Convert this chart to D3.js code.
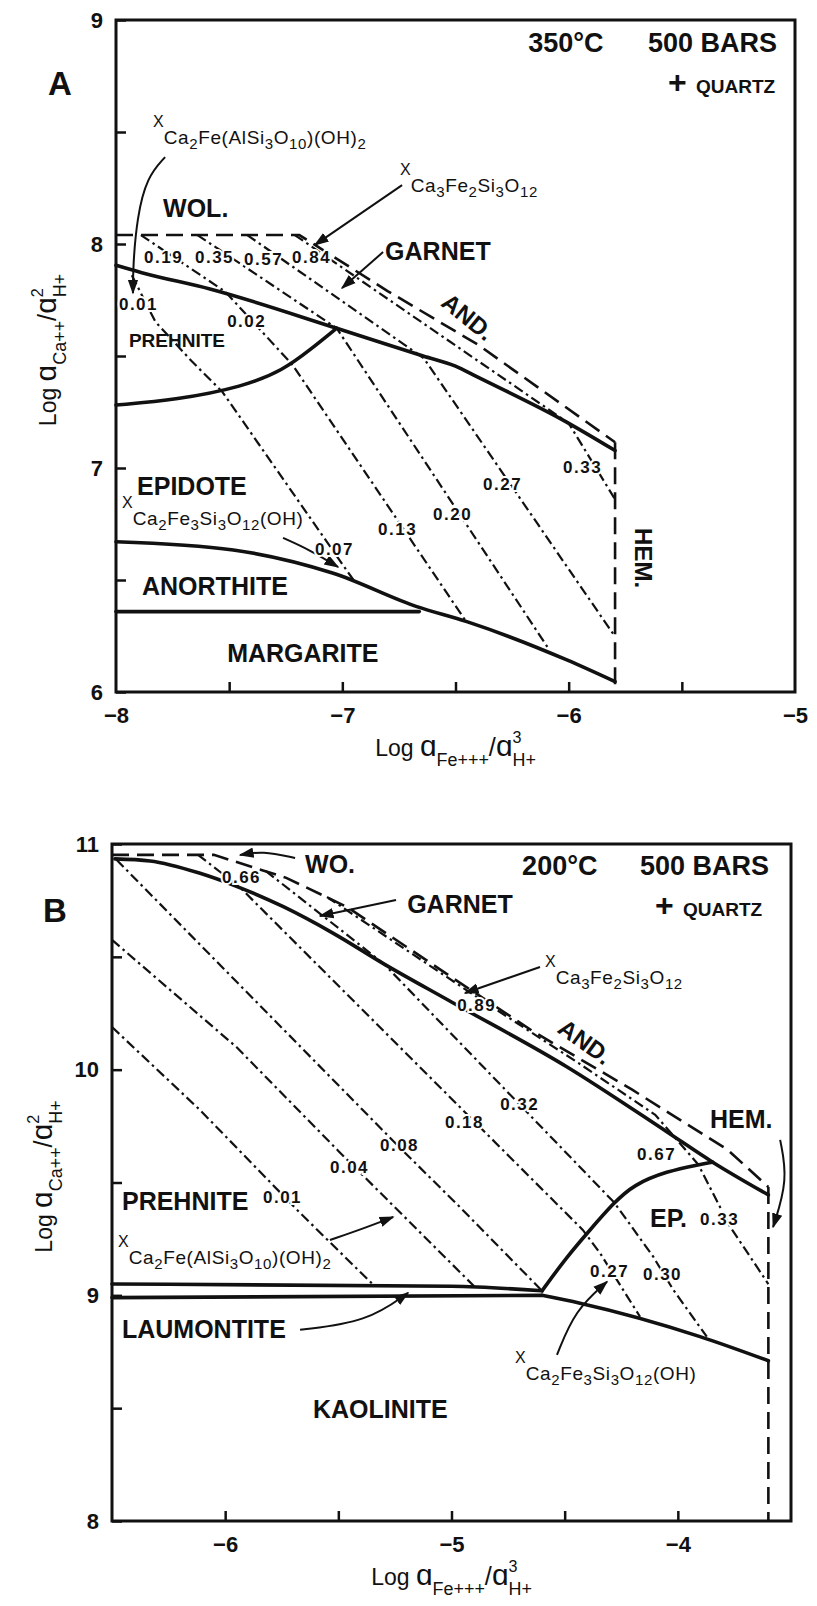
<!DOCTYPE html>
<html>
<head>
<meta charset="utf-8">
<script src="https://cdn.jsdelivr.net/npm/d3@7"></script>
<style>
  body { margin: 0; background: #fff; }
  svg { display: block; }
  text { font-family: "Liberation Sans", Arial, Helvetica, sans-serif; fill: #111; }
</style>
</head>
<body>
<div id="chart"></div>
<script>
// ---------- panel A : 350 C, 500 bars ----------
const aXTicks = [-8, -7.5, -7, -6.5, -6, -5.5, -5];
const aYTicks = [6, 6.5, 7, 7.5, 8, 8.5, 9];

// phase boundaries (log aFe+++/a3H+, log aCa++/a2H+)
const aGarnetLine = [[-8, 7.905], [-7.886, 7.872], [-7.585, 7.799], [-7.025, 7.624], [-6.643, 7.5], [-6.5, 7.455], [-6.406, 7.408], [-6.025, 7.214], [-5.795, 7.078]];
const aPrehniteEpidote = [[-8, 7.281], [-7.732, 7.304], [-7.437, 7.363], [-7.261, 7.437], [-7.143, 7.527], [-7.025, 7.624]];
const aEpidoteLow = [[-8, 6.671], [-7.482, 6.634], [-7.04, 6.53], [-6.671, 6.381], [-6.45, 6.314], [-6.008, 6.143], [-5.795, 6.046]];
const aAnorthiteMargarite = [[-8, 6.359], [-6.66, 6.359]];
const aWolAnd = [[-8, 8.04], [-7.19, 8.04], [-6.8, 7.79], [-6.4, 7.55], [-5.795, 7.115]];
const aHem = [[-5.795, 7.115], [-5.795, 6]];

// isopleths (dash-dot)
const aIsopleths = [
  [[-7.93, 7.86], [-7.826, 7.653], [-7.664, 7.475], [-7.53, 7.34], [-6.951, 6.5]],
  [[-7.89, 8.04], [-7.517, 7.787], [-7.22, 7.46], [-6.45, 6.31]],
  [[-7.64, 8.04], [-7.025, 7.624], [-6.09, 6.195]],
  [[-7.42, 8.04], [-6.64, 7.49], [-5.795, 6.247]],
  [[-7.21, 8.04], [-6.0, 7.2], [-5.795, 6.86]]
];
const aIsoLabels = ["0.19", "0.35", "0.57", "0.84", "0.01", "0.02", "0.07", "0.13", "0.20", "0.27", "0.33"];
const aIsoLabelX = [-7.876, -7.651, -7.434, -7.222, -7.987, -7.509, -7.121, -6.842, -6.599, -6.378, -6.025];
const aIsoLabelY = [7.915, 7.915, 7.906, 7.915, 7.705, 7.629, 6.612, 6.701, 6.768, 6.902, 6.978];

const aFields = [["WOL.", -7.792, 8.121], ["GARNET", -6.811, 7.929], ["PREHNITE", -7.943, 7.54], ["EPIDOTE", -7.907, 6.879], ["ANORTHITE", -7.885, 6.433], ["MARGARITE", -7.509, 6.134]];
const aFormulas = [["Ca2Fe(AlSi3O10)(OH)2", -7.836, 8.522], ["Ca3Fe2Si3O12", -6.745, 8.308], ["Ca2Fe3Si3O12(OH)", -7.973, 6.821]];
const aArrows = [
  [[-7.783, 8.388], [-7.863, 8.299], [-7.907, 8.121], [-7.925, 7.897], [-7.925, 7.781]],
  [[-6.736, 8.263], [-7.121, 7.996]],
  [[-6.82, 7.964], [-7.001, 7.804]],
  [[-7.262, 6.688], [-7.143, 6.634], [-7.019, 6.558]]
];

// ---------- panel B : 200 C, 500 bars ----------
const bXTicks = [-6.5, -6, -5.5, -5, -4.5, -4, -3.5];
const bYTicks = [8, 8.5, 9, 9.5, 10, 10.5, 11];

const bGarnetLine = [[-6.487, 10.934], [-6.332, 10.925], [-6.111, 10.87], [-5.964, 10.818], [-5.743, 10.722], [-5.522, 10.604], [-5.301, 10.47], [-5.0, 10.3], [-4.491, 10.013], [-4.049, 9.725], [-3.846, 9.59], [-3.6, 9.445]];
const bEpidoteCurve = [[-4.6, 9.02], [-4.491, 9.17], [-4.388, 9.29], [-4.285, 9.408], [-4.196, 9.49], [-4.049, 9.55], [-3.902, 9.58], [-3.846, 9.59]];
const bPrehniteLaumontite = [[-6.5, 9.05], [-5.0, 9.04], [-4.6, 9.02]];
const bLaumontiteKaolinite = [[-6.5, 8.99], [-4.6, 9.0]];
const bKaoliniteEpidote = [[-4.6, 9.0], [-4.432, 8.965], [-3.902, 8.817], [-3.6, 8.71]];
const bWoAnd = [[-6.5, 10.952], [-6.05, 10.952], [-5.73, 10.85], [-5.46, 10.72], [-5.0, 10.41], [-4.64, 10.17], [-4.2, 9.91], [-3.78, 9.645], [-3.6, 9.48]];
const bHem = [[-3.6, 9.48], [-3.6, 8]];

const bIsopleths = [
  [[-6.5, 10.189], [-6.111, 9.821], [-5.669, 9.365], [-5.345, 9.046]],
  [[-6.5, 10.575], [-5.95, 10.1], [-5.5, 9.64], [-4.9, 9.04]],
  [[-6.48, 10.93], [-5.227, 9.653], [-4.962, 9.39], [-4.6, 9.02]],
  [[-6.12, 10.952], [-5.937, 10.81], [-4.42, 9.29], [-4.343, 9.186], [-4.167, 8.905]],
  [[-5.82, 10.88], [-5.3, 10.47], [-4.28, 9.41], [-4.108, 9.17], [-4.02, 9.024], [-3.872, 8.817]],
  [[-5.55, 10.765], [-4.9, 10.33], [-4.44, 10.03], [-4.1, 9.8], [-3.91, 9.58], [-3.769, 9.304], [-3.6, 9.05]]
];
const bIsoLabels = ["0.66", "0.89", "0.32", "0.18", "0.08", "0.04", "0.01", "0.67", "0.33", "0.27", "0.30"];
const bIsoLabelX = [-6.014, -4.975, -4.785, -5.029, -5.316, -5.537, -5.833, -4.18, -3.902, -4.388, -4.154];
const bIsoLabelY = [10.827, 10.26, 9.821, 9.742, 9.64, 9.542, 9.409, 9.6, 9.312, 9.082, 9.068];

const bFields = [["WO.", -5.647, 10.872], ["GARNET", -5.196, 10.694], ["HEM.", -3.858, 9.742], ["PREHNITE", -6.456, 9.378], ["EP.", -4.123, 9.303], ["LAUMONTITE", -6.456, 8.811], ["KAOLINITE", -5.612, 8.457]];
const bFormulas = [["Ca3Fe2Si3O12", -4.587, 10.455], ["Ca2Fe(AlSi3O10)(OH)2", -6.473, 9.214], ["Ca2Fe3Si3O12(OH)", -4.719, 8.7]];
const bArrows = [
  [[-5.691, 10.938], [-5.837, 10.969], [-5.934, 10.951]],
  [[-5.245, 10.752], [-5.581, 10.681]],
  [[-4.609, 10.455], [-4.94, 10.34]],
  [[-3.548, 9.689], [-3.513, 9.511], [-3.579, 9.303]],
  [[-5.537, 9.245], [-5.382, 9.299], [-5.258, 9.347]],
  [[-5.669, 8.847], [-5.373, 8.882], [-5.192, 9.011]],
  [[-4.534, 8.736], [-4.454, 8.935], [-4.313, 9.06]]
];

// ---------- drawing ----------
const svg = d3.select("#chart").append("svg")
    .attr("width", 817)
    .attr("height", 1606);

svg.append("defs").append("marker")
    .attr("id", "head")
    .attr("viewBox", "0 0 10 10")
    .attr("refX", 9).attr("refY", 5)
    .attr("markerWidth", 15).attr("markerHeight", 15)
    .attr("markerUnits", "userSpaceOnUse")
    .attr("orient", "auto")
  .append("path")
    .attr("d", "M0,1.5 L10,5 L0,8.5 Z")
    .attr("fill", "#111");

// text with sub/superscripts: [string, size factor, baseline shift factor, stacked]
function richText(g, x, y, rot, parts, base) {
    var t = g.append("text")
        .attr("transform", `translate(${x},${y}) rotate(${rot})`)
        .attr("text-anchor", "middle")
        .attr("font-size", base);
    var cur = 0, prevW = 0;
    parts.forEach(p => {
        var off = p[2] * base;
        var ts = t.append("tspan")
            .attr("font-size", base * p[1])
            .attr("dy", off - cur)
            .text(p[0]);
        if (p[3]) ts.attr("dx", -prevW);
        prevW = p[0].length * base * p[1] * 0.56;
        cur = off;
    });
}

function formula(g, x, y, str) {
    var t = g.append("text").attr("x", x).attr("y", y);
    t.append("tspan").attr("font-size", 16).text("X");
    var cur = 0;
    str.match(/\d+|\D+/g).forEach(s => {
        var num = /\d/.test(s);
        var off = num ? 22 : 17;
        t.append("tspan")
            .attr("dy", off - cur)
            .attr("font-size", num ? 15 : 19)
            .attr("letter-spacing", 0.6)
            .text(s);
        cur = off;
    });
}

function drawPanel(o) {
    var x = o.x, y = o.y;
    var g = svg.append("g");
    var straight = d3.line().x(d => x(d[0])).y(d => y(d[1]));
    var smooth = d3.line().x(d => x(d[0])).y(d => y(d[1])).curve(d3.curveMonotoneX);
    var bent = d3.line().x(d => x(d[0])).y(d => y(d[1])).curve(d3.curveBasis);

    g.selectAll("path.iso")
        .data(o.iso)
        .join("path")
        .attr("class", "iso")
        .attr("d", straight)
        .attr("fill", "none")
        .attr("stroke", "#111")
        .attr("stroke-width", 2.2)
        .attr("stroke-dasharray", "10,4,2.5,4");

    g.selectAll("path.dash")
        .data(o.dashed)
        .join("path")
        .attr("class", "dash")
        .attr("d", straight)
        .attr("fill", "none")
        .attr("stroke", "#111")
        .attr("stroke-width", 2.6)
        .attr("stroke-dasharray", "17,8");

    g.selectAll("path.solid")
        .data(o.solid)
        .join("path")
        .attr("class", "solid")
        .attr("d", smooth)
        .attr("fill", "none")
        .attr("stroke", "#111")
        .attr("stroke-width", 3.6)
        .attr("stroke-linecap", "round");

    // curved field boundary (epidote in)
    g.append("path")
        .datum(o.curve)
        .attr("d", bent)
        .attr("fill", "none")
        .attr("stroke", "#111")
        .attr("stroke-width", 3.6)
        .attr("stroke-linecap", "round");

    g.selectAll("path.arrow")
        .data(o.arrows)
        .join("path")
        .attr("class", "arrow")
        .attr("d", bent)
        .attr("fill", "none")
        .attr("stroke", "#111")
        .attr("stroke-width", 2)
        .attr("marker-end", "url(#head)");

    // frame
    var x0 = x.range()[0], x1 = x.range()[1], y0 = y.range()[1], y1 = y.range()[0];
    g.append("rect")
        .attr("x", x0).attr("y", y0)
        .attr("width", x1 - x0).attr("height", y1 - y0)
        .attr("fill", "none")
        .attr("stroke", "#111")
        .attr("stroke-width", 3);

    var fmt = d => Number.isInteger(d) ? d3.format("d")(d) : "";
    g.append("g")
        .attr("transform", `translate(0,${y1})`)
        .call(d3.axisBottom(x).tickValues(o.xTicks.slice(1, -1)).tickSize(-10).tickPadding(15).tickFormat(fmt))
        .call(a => a.select(".domain").remove());
    g.append("g")
        .attr("transform", `translate(0,${y1})`)
        .call(d3.axisBottom(x).tickValues([o.xTicks[0], o.xTicks[o.xTicks.length - 1]]).tickSize(0).tickPadding(15).tickFormat(fmt))
        .call(a => a.select(".domain").remove());
    g.append("g")
        .attr("transform", `translate(${x0},0)`)
        .call(d3.axisLeft(y).tickValues(o.yTicks).tickSize(-10).tickPadding(13).tickFormat(fmt))
        .call(a => a.select(".domain").remove());
    g.selectAll(".tick line").attr("stroke", "#111").attr("stroke-width", 2.5);
    g.selectAll(".tick text")
        .attr("font-size", 22)
        .attr("font-weight", "bold")
        .attr("font-family", '"Liberation Sans", Arial, sans-serif')
        .attr("fill", "#111");

    // isopleth values
    g.selectAll("text.iso")
        .data(o.isoLabels)
        .join("text")
        .attr("class", "iso")
        .attr("x", (d, i) => x(o.isoX[i]))
        .attr("y", (d, i) => y(o.isoY[i]))
        .attr("font-size", 17)
        .attr("font-weight", "bold")
        .attr("letter-spacing", 1.5)
        .attr("stroke", "#fff")
        .attr("stroke-width", 4)
        .attr("paint-order", "stroke")
        .text(d => d);

    // field names
    g.selectAll("text.field")
        .data(o.fields)
        .join("text")
        .attr("class", "field")
        .attr("x", d => x(d[1]))
        .attr("y", d => y(d[2]))
        .attr("font-size", d => (o.small.includes(d[0]) ? 19 : 25))
        .attr("font-weight", "bold")
        .text(d => d[0]);

    o.formulas.forEach(f => formula(g, x(f[1]), y(f[2]), f[0]));

    // header
    g.append("text").attr("x", x(o.temp[1])).attr("y", y(o.temp[2]))
        .attr("font-size", 27).attr("font-weight", "bold").text(o.temp[0]);
    g.append("text").attr("x", x(o.bars[1])).attr("y", y(o.bars[2]))
        .attr("font-size", 27).attr("font-weight", "bold").text(o.bars[0]);
    g.append("text").attr("x", x(o.plus[0])).attr("y", y(o.plus[1]))
        .attr("font-size", 32).attr("font-weight", "bold").text("+");
    g.append("text").attr("x", x(o.plus[0]) + 28).attr("y", y(o.plus[1]))
        .attr("font-size", 19).attr("font-weight", "bold").text("QUARTZ");

    // AND. label along the boundary
    g.append("text")
        .attr("transform", `translate(${x(o.and[0])},${y(o.and[1])}) rotate(${o.and[2]})`)
        .attr("text-anchor", "middle").attr("dy", "0.35em")
        .attr("font-size", 24).attr("font-weight", "bold").text("AND.");

    // panel letter
    g.append("text").attr("x", x(o.letter[1])).attr("y", y(o.letter[2]))
        .attr("font-size", 33).attr("font-weight", "bold").text(o.letter[0]);

    // axis titles
    var xc = (x0 + x1) / 2, yc = (y0 + y1) / 2;
    richText(g, xc, y1 + 64, 0,
        [["Log ", 1, 0], ["ɑ", 1.3, 0], ["Fe+++", 0.78, 0.42], ["/", 1.1, 0], ["ɑ", 1.3, 0], ["3", 0.7, -0.55], ["H+", 0.78, 0.42, true]], 23);
    richText(g, x0 - 60, yc - 6, -90,
        [["Log ", 1, 0], ["ɑ", 1.3, 0], ["Ca++", 0.78, 0.42], ["/", 1.1, 0], ["ɑ", 1.3, 0], ["2", 0.7, -0.55], ["H+", 0.78, 0.42, true]], 23);
    return g;
}

var xA = d3.scaleLinear().domain([-8, -5]).range([116, 795]);
var yA = d3.scaleLinear().domain([6, 9]).range([692, 20]);

var gA = drawPanel({
    x: xA, y: yA,
    xTicks: aXTicks, yTicks: aYTicks,
    solid: [aGarnetLine, aEpidoteLow, aAnorthiteMargarite],
    curve: aPrehniteEpidote,
    dashed: [aWolAnd, aHem],
    iso: aIsopleths,
    isoLabels: aIsoLabels, isoX: aIsoLabelX, isoY: aIsoLabelY,
    fields: aFields, small: ["PREHNITE"],
    formulas: aFormulas,
    arrows: aArrows,
    temp: ["350°C", -6.179, 8.857], bars: ["500 BARS", -5.65, 8.857], plus: [-5.561, 8.674],
    and: [-6.445, 7.674, 39],
    letter: ["A", -8.3, 8.665]
});

// HEM. label written downward in panel A
gA.append("text")
    .attr("transform", `translate(${xA(-5.671)},${yA(6.598)}) rotate(90)`)
    .attr("text-anchor", "middle").attr("dy", "0.35em")
    .attr("font-size", 24).attr("font-weight", "bold").text("HEM.");

drawPanel({
    x: d3.scaleLinear().domain([-6.5, -3.5]).range([112, 791]),
    y: d3.scaleLinear().domain([8, 11]).range([1521, 844]),
    xTicks: bXTicks, yTicks: bYTicks,
    solid: [bGarnetLine, bPrehniteLaumontite, bLaumontiteKaolinite, bKaoliniteEpidote],
    curve: bEpidoteCurve,
    dashed: [bWoAnd, bHem],
    iso: bIsopleths,
    isoLabels: bIsoLabels, isoX: bIsoLabelX, isoY: bIsoLabelY,
    fields: bFields, small: [],
    formulas: bFormulas,
    arrows: bArrows,
    temp: ["200°C", -4.688, 10.863], bars: ["500 BARS", -4.167, 10.863], plus: [-4.101, 10.681],
    and: [-4.41, 10.123, 36],
    letter: ["B", -6.805, 10.654]
});
</script>
</body>
</html>
